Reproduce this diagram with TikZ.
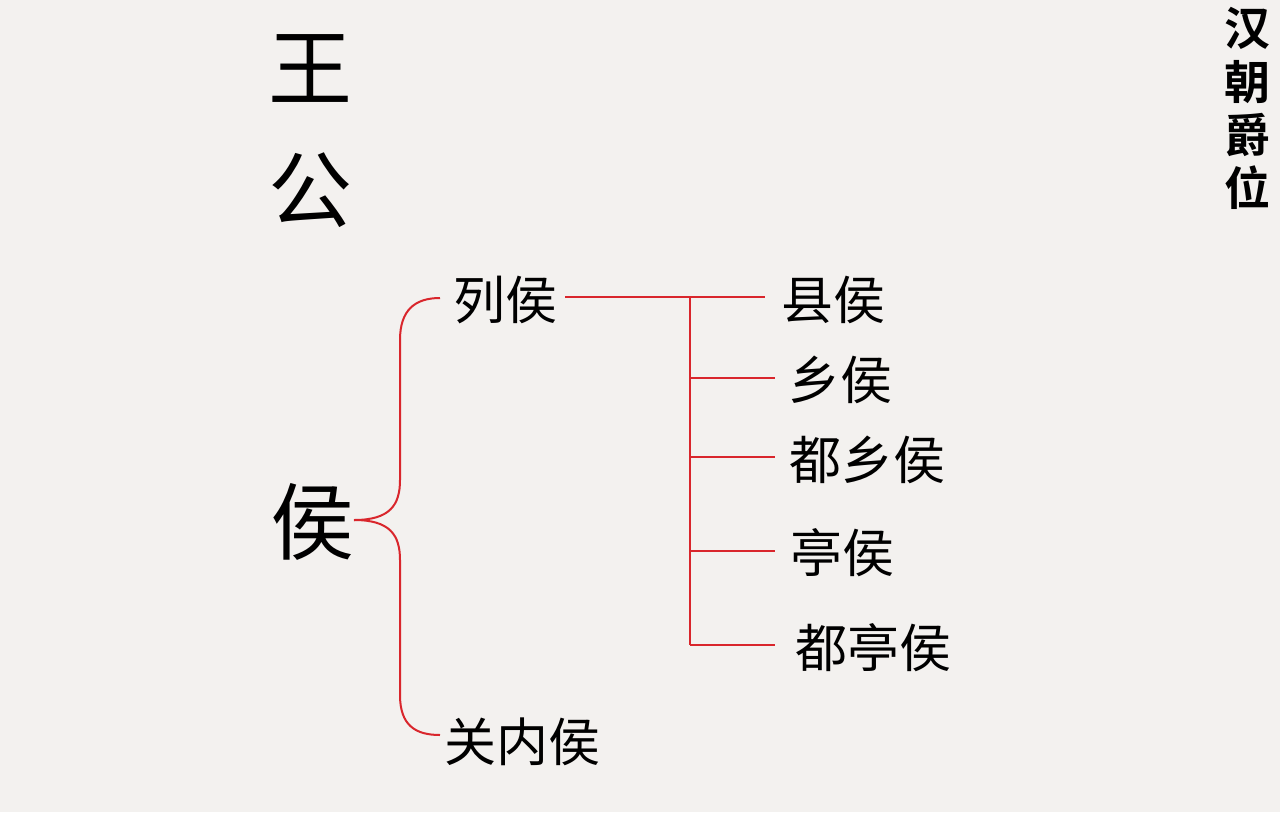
\documentclass[tikz,border=0pt]{standalone}
\usepackage{fontspec}
\newfontfamily\cjk{Noto Sans CJK SC}
\newfontfamily\cjkb{Noto Sans CJK SC Bold}
\definecolor{bg}{HTML}{F3F1EF}
\definecolor{rl}{HTML}{D9262C}
\begin{document}
\begin{tikzpicture}[x=1pt,y=-1pt,
  big/.style={font=\cjk\fontsize{84}{84}\selectfont,inner sep=0},
  mid/.style={font=\cjk\fontsize{52}{52}\selectfont,inner sep=0},
  side/.style={font=\cjkb\fontsize{46}{46}\selectfont,inner sep=0},
  rline/.style={draw=rl,line width=2pt}]
\fill[bg] (0,0) rectangle (1280,812);
\useasboundingbox (0,0) rectangle (1280,812);
\node[big] (wang) at (310,68) {王};
\node[big] (gong) at (310,190) {公};
\node[big] (hou) at (312,522) {侯};
\node[side] (h1) at (1247,28) {汉};
\node[side] (h2) at (1247,82) {朝};
\node[side] (h3) at (1247,135) {爵};
\node[side] (h4) at (1247,188) {位};
\node[mid] (lie) at (505,300) {列侯};
\node[mid] (guan) at (522,742) {关内侯};
\node[mid] (xian) at (833,300) {县侯};
\node[mid] (xiang) at (840,380) {乡侯};
\node[mid] (duxiang) at (867,460) {都乡侯};
\node[mid] (ting) at (842,553) {亭侯};
\node[mid] (duting) at (873,648) {都亭侯};
\coordinate (b0) at (354,520);
\coordinate (bt) at (440,298);
\coordinate (bb) at (440,735);
\coordinate (le) at (565,297);
\draw[rline] (b0) .. controls (390,520) and (400,505) .. (400,480) -- (400,340) .. controls (400,310) and (415,298) .. (bt);
\draw[rline] (b0) .. controls (390,520) and (400,535) .. (400,560) -- (400,695) .. controls (400,725) and (415,735) .. (bb);
\coordinate (j0) at (690,297);
\coordinate (j4) at (690,645);
\draw[rline] (le) -- (765,297);
\draw[rline] (j0) -- (j4);
\draw[rline] (690,378) -- (775,378);
\draw[rline] (690,457) -- (775,457);
\draw[rline] (690,551) -- (775,551);
\draw[rline] (j4) -- (775,645);
\end{tikzpicture}
\end{document}
